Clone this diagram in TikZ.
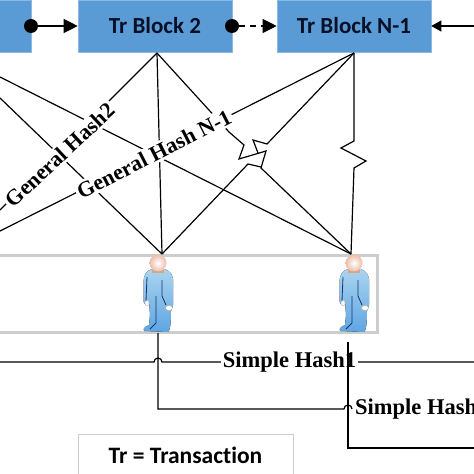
\documentclass[tikz,border=0pt]{standalone}
\usepackage{fontspec}
\setmainfont{Liberation Serif}
\newfontfamily\blockfont[Ligatures=NoCommon]{Carlito}
\usepackage{xcolor}
\usetikzlibrary{arrows.meta,positioning,calc}
\definecolor{BlockBlue}{RGB}{91,155,213}
\definecolor{BlockInk}{RGB}{8,16,40}
\definecolor{FrameGray}{RGB}{205,205,205}
\definecolor{SuitBlue}{RGB}{170,212,240}
\definecolor{SuitDeep}{RGB}{95,165,225}
\definecolor{SuitLine}{RGB}{20,50,110}
\definecolor{SkinPink}{RGB}{235,190,170}
\tikzset{
  trblock/.style={rectangle,fill=BlockBlue,draw=BlockBlue!70!white,line width=0.6pt,
                  minimum width=154pt,minimum height=52pt,inner sep=0pt,
                  text=BlockInk,font=\blockfont\bfseries\fontsize{23}{25}\selectfont},
  dot/.style={circle,fill=black,minimum size=14pt,inner sep=0pt},
  link/.style={-{Triangle[length=14pt,width=14pt]},line width=1.2pt},
  wire/.style={line width=1.2pt},
  hashlabel/.style={fill=white,inner sep=2pt,font=\bfseries\fontsize{22}{24}\selectfont},
  simplelabel/.style={fill=white,inner sep=2pt,font=\bfseries\fontsize{22.5}{24}\selectfont},
  legend/.style={draw=FrameGray,line width=1pt,fill=white,minimum width=215pt,minimum height=41pt,
                 font=\blockfont\bfseries\fontsize{23.5}{25}\selectfont},
  person/.pic={
    \fill[top color=SuitBlue,bottom color=SuitDeep]
      (-6,6) .. controls (-12,8) and (-14,12) .. (-14.5,18) -- (-14.5,38)
      .. controls (-14,43) and (-10,43) .. (-9,38) -- (-8,52) -- (-9,62)
      .. controls (-14,64) and (-16,67) .. (-13,68) -- (10,69)
      .. controls (12,68) and (13,60) .. (13,48) -- (15,42) -- (15,16)
      .. controls (14,10) and (11,8) .. (7,6) -- cycle;
    \fill[SkinPink!60!brown] (-6,5) rectangle (6,9.5);
    \shade[inner color=white,outer color=SkinPink] (0,0) circle (8.5);
    \fill[white,draw=SkinPink!60!gray,line width=0.3pt] (-11,40) ellipse (2 and 3);
    \fill[white,draw=SkinPink!60!gray,line width=0.3pt] (11,45) ellipse (3.5 and 2.5);
    \draw[SuitLine,line width=0.8pt] (-11,14) -- (-12,38);
    \draw[SuitLine,line width=0.8pt] (4,17) -- (4,33) -- (8,42);
    \draw[SuitLine,line width=0.8pt] (-2,33) -- (-2,60) -- (-8,66);
  },
}

\begin{document}
\begin{tikzpicture}[>=Stealth,x=1pt,y=-1pt]
  \useasboundingbox (0,0) rectangle (474,474);
  \clip (0,0) rectangle (474,474);

  % blocks along the top
  \node[trblock] (blockA) at (-46,26) {};
  \node[trblock] (blockB) at (155,26) {Tr Block 2};
  \node[trblock] (blockC) at (354,26) {Tr Block N-1};
  \node[dot] (dotA) at (31,26) {};
  \node[dot] (dotB) at (232,26) {};
  \coordinate (inC) at (474,26);
  \draw[link] (dotA) -- (blockB.west);
  \draw[link,dash pattern=on 6pt off 5pt] (dotB) -- (blockC.west);
  \draw[-{Triangle[length=10pt,width=11pt]},line width=1.2pt] (inC) -- (blockC.east);

  % users
  \draw[FrameGray,line width=3pt] (-10,255) rectangle (377,332);
  \pic (userA) at (158,263) {person};
  \pic (userB) at (354,263) {person};

  % anchor points of the hash lines
  \coordinate (topA) at (157,53);
  \coordinate (topB) at (354,53);
  \coordinate (footA) at (162,254);
  \coordinate (footB) at (351,254);
  \coordinate (leftA) at (0,98);
  \coordinate (leftB) at (0,77);
  \coordinate (leftC) at (0,210);
  \coordinate (leftD) at (0,231);

  \draw[wire] (leftA) -- (footA);
  \draw[wire] (leftB) -- (footB);
  \draw[wire] (topA) -- (leftC);
  \draw[wire] (topB) -- (leftD);
  \draw[wire] (topA) -- (footA);
  \draw[wire] (topA) -- (229,132) -- (244,145) -- (239,159) -- (266,151) -- (261,168) -- (footB);
  \draw[wire] (topB) -- (267,144) -- (253,140) -- (258,153);
  \draw[wire] (261,167) -- (248,164) -- (footA);
  \draw[wire] (topB) -- (354,141) -- (341,148) -- (366,161) -- (354,168) -- (footB);

  \node[hashlabel,rotate=43] (hashB) at (60,155) {General Hash2};
  \node[hashlabel,rotate=27] (hashN) at (154,154) {General Hash N-1};

  % hash lines underneath
  \coordinate (startS) at (0,362);
  \coordinate (endS) at (474,362);
  \coordinate (dropA) at (158,333);
  \coordinate (dropB) at (348,342);
  \coordinate (endT) at (474,448);
  \draw[wire] (startS) -- (154,362) arc[start angle=180,end angle=360,radius=4] -- (endS);
  \draw[wire] (dropA) |- (344,409) arc[start angle=180,end angle=360,radius=4];
  \node[simplelabel] (simpleA) at (289.5,362) {Simple Hash1};
  \node[simplelabel,anchor=west] (simpleB) at (353,409) {Simple Hash};
  \draw[wire] (dropB) |- (endT);

  \node[legend] (note) at (185.5,455) {Tr = Transaction};
\end{tikzpicture}
\end{document}
